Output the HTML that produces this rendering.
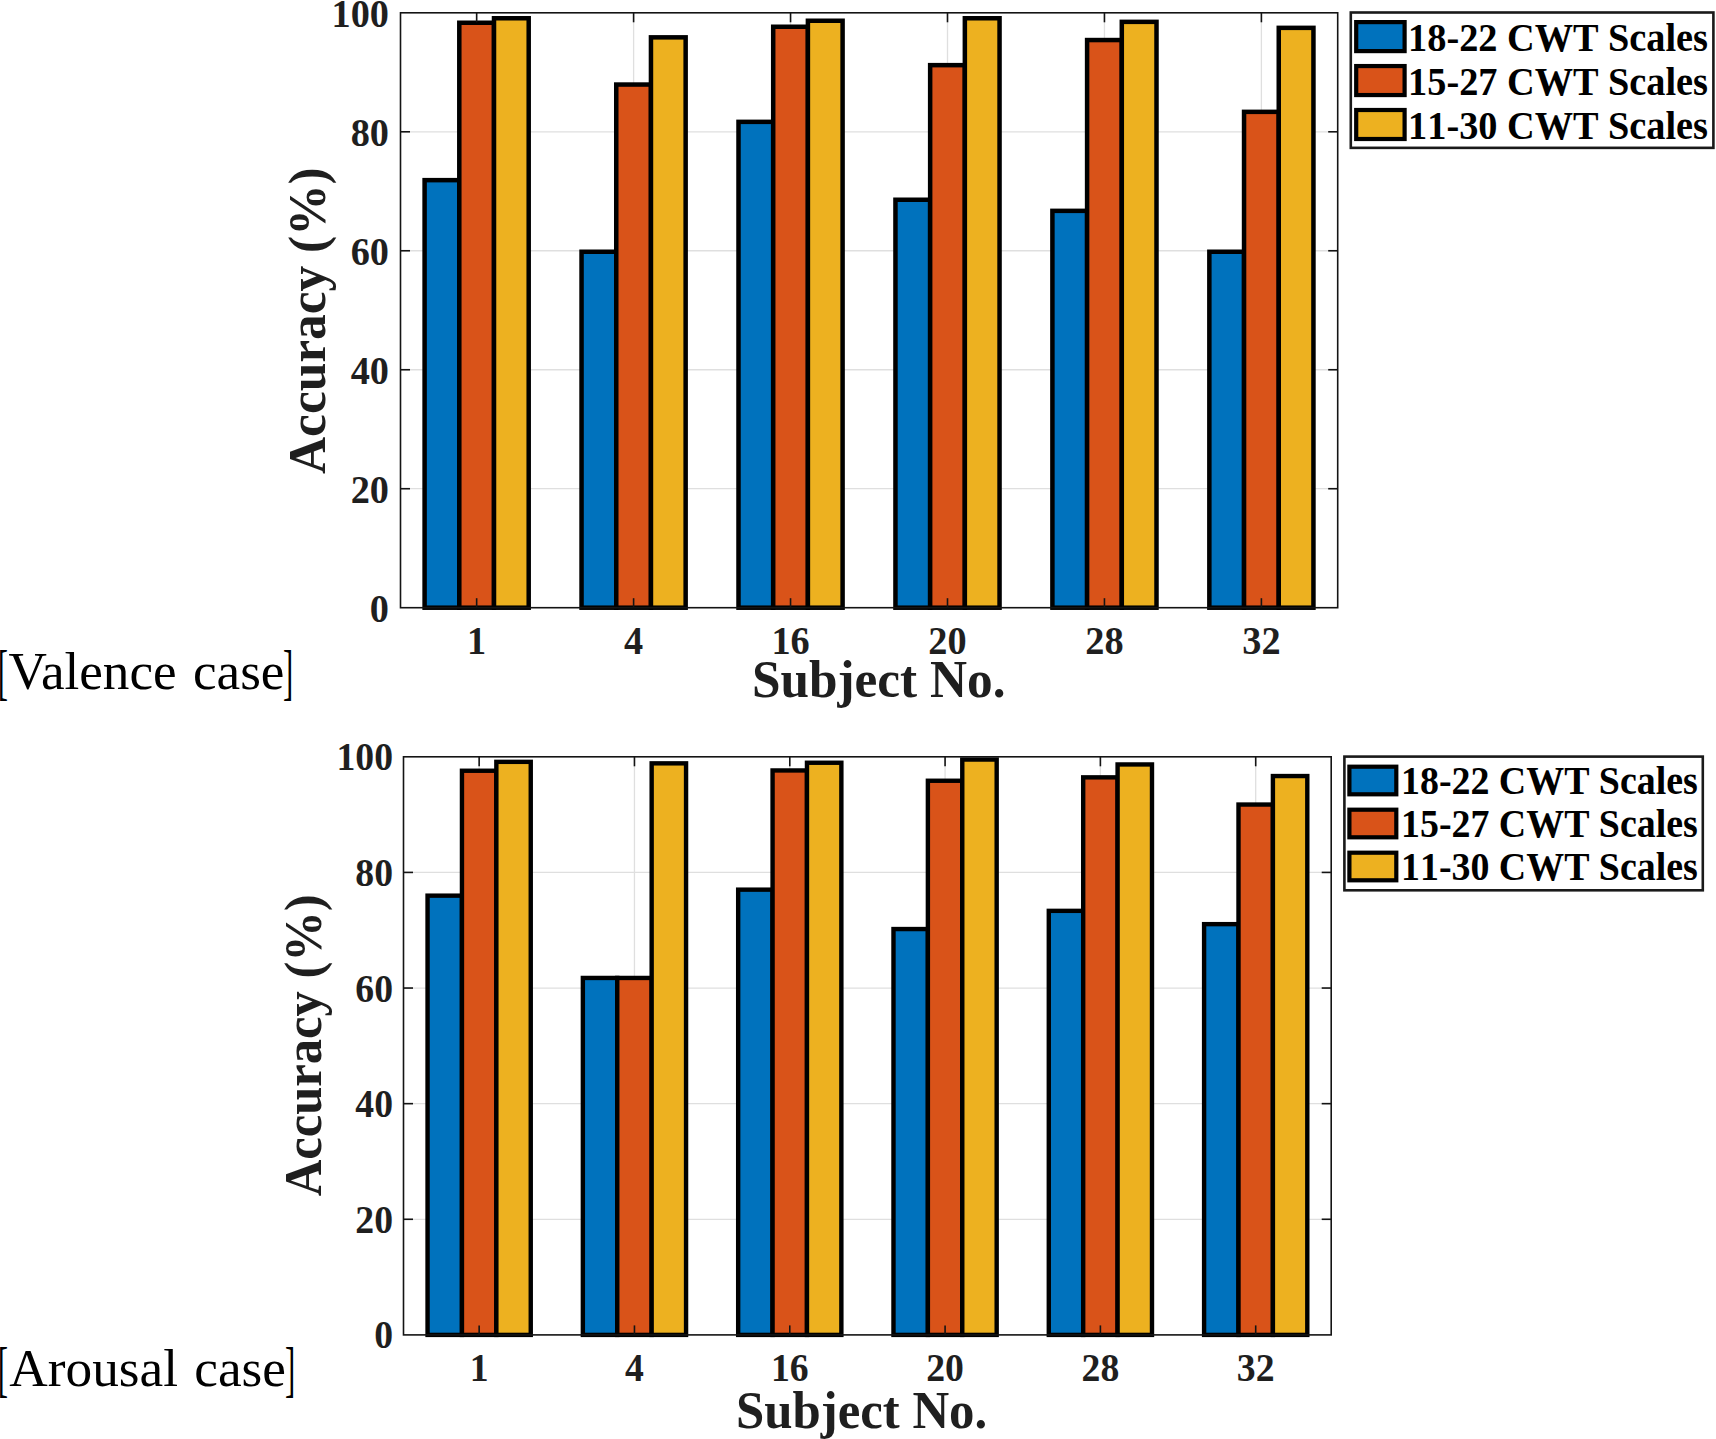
<!DOCTYPE html>
<html><head><meta charset="utf-8"><title>CWT Scales Accuracy</title>
<style>
html,body{margin:0;padding:0;background:#fff;}
body{width:1716px;height:1439px;overflow:hidden;}
svg{display:block;}
.b{font-kerning:none;font-family:"Liberation Serif","Times New Roman",serif;font-weight:bold;}
.r{font-family:"Liberation Serif","Times New Roman",serif;font-weight:normal;}
</style></head><body>
<svg width="1716" height="1439" viewBox="0 0 1716 1439">
<rect width="1716" height="1439" fill="#fff"/>
<line x1="400.5" y1="488.72" x2="1337.7" y2="488.72" stroke="#dfdfdf" stroke-width="1.3"/>
<line x1="400.5" y1="369.74" x2="1337.7" y2="369.74" stroke="#dfdfdf" stroke-width="1.3"/>
<line x1="400.5" y1="250.76" x2="1337.7" y2="250.76" stroke="#dfdfdf" stroke-width="1.3"/>
<line x1="400.5" y1="131.78" x2="1337.7" y2="131.78" stroke="#dfdfdf" stroke-width="1.3"/>
<line x1="476.65" y1="12.8" x2="476.65" y2="607.7" stroke="#dfdfdf" stroke-width="1.3"/>
<line x1="633.60" y1="12.8" x2="633.60" y2="607.7" stroke="#dfdfdf" stroke-width="1.3"/>
<line x1="790.55" y1="12.8" x2="790.55" y2="607.7" stroke="#dfdfdf" stroke-width="1.3"/>
<line x1="947.50" y1="12.8" x2="947.50" y2="607.7" stroke="#dfdfdf" stroke-width="1.3"/>
<line x1="1104.45" y1="12.8" x2="1104.45" y2="607.7" stroke="#dfdfdf" stroke-width="1.3"/>
<line x1="1261.40" y1="12.8" x2="1261.40" y2="607.7" stroke="#dfdfdf" stroke-width="1.3"/>
<rect x="424.60" y="180.15" width="34.70" height="427.55" fill="#0072BD" stroke="#000" stroke-width="4.5"/>
<rect x="459.30" y="22.75" width="34.70" height="584.95" fill="#D95319" stroke="#000" stroke-width="4.5"/>
<rect x="494.00" y="18.25" width="34.70" height="589.45" fill="#EDB120" stroke="#000" stroke-width="4.5"/>
<rect x="581.55" y="251.75" width="34.70" height="355.95" fill="#0072BD" stroke="#000" stroke-width="4.5"/>
<rect x="616.25" y="84.55" width="34.70" height="523.15" fill="#D95319" stroke="#000" stroke-width="4.5"/>
<rect x="650.95" y="37.35" width="34.70" height="570.35" fill="#EDB120" stroke="#000" stroke-width="4.5"/>
<rect x="738.50" y="121.85" width="34.70" height="485.85" fill="#0072BD" stroke="#000" stroke-width="4.5"/>
<rect x="773.20" y="26.75" width="34.70" height="580.95" fill="#D95319" stroke="#000" stroke-width="4.5"/>
<rect x="807.90" y="20.75" width="34.70" height="586.95" fill="#EDB120" stroke="#000" stroke-width="4.5"/>
<rect x="895.45" y="199.75" width="34.70" height="407.95" fill="#0072BD" stroke="#000" stroke-width="4.5"/>
<rect x="930.15" y="65.15" width="34.70" height="542.55" fill="#D95319" stroke="#000" stroke-width="4.5"/>
<rect x="964.85" y="18.25" width="34.70" height="589.45" fill="#EDB120" stroke="#000" stroke-width="4.5"/>
<rect x="1052.40" y="210.85" width="34.70" height="396.85" fill="#0072BD" stroke="#000" stroke-width="4.5"/>
<rect x="1087.10" y="40.05" width="34.70" height="567.65" fill="#D95319" stroke="#000" stroke-width="4.5"/>
<rect x="1121.80" y="21.85" width="34.70" height="585.85" fill="#EDB120" stroke="#000" stroke-width="4.5"/>
<rect x="1209.35" y="251.75" width="34.70" height="355.95" fill="#0072BD" stroke="#000" stroke-width="4.5"/>
<rect x="1244.05" y="111.85" width="34.70" height="495.85" fill="#D95319" stroke="#000" stroke-width="4.5"/>
<rect x="1278.75" y="27.85" width="34.70" height="579.85" fill="#EDB120" stroke="#000" stroke-width="4.5"/>
<rect x="400.5" y="12.8" width="937.20" height="594.90" fill="none" stroke="#141414" stroke-width="1.6"/>
<line x1="476.65" y1="12.8" x2="476.65" y2="22.3" stroke="#141414" stroke-width="1.6"/>
<line x1="476.65" y1="607.7" x2="476.65" y2="598.2" stroke="#141414" stroke-width="1.6"/>
<line x1="633.60" y1="12.8" x2="633.60" y2="22.3" stroke="#141414" stroke-width="1.6"/>
<line x1="633.60" y1="607.7" x2="633.60" y2="598.2" stroke="#141414" stroke-width="1.6"/>
<line x1="790.55" y1="12.8" x2="790.55" y2="22.3" stroke="#141414" stroke-width="1.6"/>
<line x1="790.55" y1="607.7" x2="790.55" y2="598.2" stroke="#141414" stroke-width="1.6"/>
<line x1="947.50" y1="12.8" x2="947.50" y2="22.3" stroke="#141414" stroke-width="1.6"/>
<line x1="947.50" y1="607.7" x2="947.50" y2="598.2" stroke="#141414" stroke-width="1.6"/>
<line x1="1104.45" y1="12.8" x2="1104.45" y2="22.3" stroke="#141414" stroke-width="1.6"/>
<line x1="1104.45" y1="607.7" x2="1104.45" y2="598.2" stroke="#141414" stroke-width="1.6"/>
<line x1="1261.40" y1="12.8" x2="1261.40" y2="22.3" stroke="#141414" stroke-width="1.6"/>
<line x1="1261.40" y1="607.7" x2="1261.40" y2="598.2" stroke="#141414" stroke-width="1.6"/>
<line x1="400.5" y1="488.72" x2="410.0" y2="488.72" stroke="#141414" stroke-width="1.6"/>
<line x1="1337.7" y1="488.72" x2="1328.2" y2="488.72" stroke="#141414" stroke-width="1.6"/>
<line x1="400.5" y1="369.74" x2="410.0" y2="369.74" stroke="#141414" stroke-width="1.6"/>
<line x1="1337.7" y1="369.74" x2="1328.2" y2="369.74" stroke="#141414" stroke-width="1.6"/>
<line x1="400.5" y1="250.76" x2="410.0" y2="250.76" stroke="#141414" stroke-width="1.6"/>
<line x1="1337.7" y1="250.76" x2="1328.2" y2="250.76" stroke="#141414" stroke-width="1.6"/>
<line x1="400.5" y1="131.78" x2="410.0" y2="131.78" stroke="#141414" stroke-width="1.6"/>
<line x1="1337.7" y1="131.78" x2="1328.2" y2="131.78" stroke="#141414" stroke-width="1.6"/>
<text transform="translate(389,621.90) scale(1,1.04)" text-anchor="end" class="b" font-size="38.3" fill="#1f1f1f">0</text>
<text transform="translate(389,502.92) scale(1,1.04)" text-anchor="end" class="b" font-size="38.3" fill="#1f1f1f">20</text>
<text transform="translate(389,383.94) scale(1,1.04)" text-anchor="end" class="b" font-size="38.3" fill="#1f1f1f">40</text>
<text transform="translate(389,264.96) scale(1,1.04)" text-anchor="end" class="b" font-size="38.3" fill="#1f1f1f">60</text>
<text transform="translate(389,145.98) scale(1,1.04)" text-anchor="end" class="b" font-size="38.3" fill="#1f1f1f">80</text>
<text transform="translate(389,27.00) scale(1,1.04)" text-anchor="end" class="b" font-size="38.3" fill="#1f1f1f">100</text>
<text transform="translate(476.65,653.65) scale(1,1.04)" text-anchor="middle" class="b" font-size="38.3" fill="#1f1f1f">1</text>
<text transform="translate(633.60,653.65) scale(1,1.04)" text-anchor="middle" class="b" font-size="38.3" fill="#1f1f1f">4</text>
<text transform="translate(790.55,653.65) scale(1,1.04)" text-anchor="middle" class="b" font-size="38.3" fill="#1f1f1f">16</text>
<text transform="translate(947.50,653.65) scale(1,1.04)" text-anchor="middle" class="b" font-size="38.3" fill="#1f1f1f">20</text>
<text transform="translate(1104.45,653.65) scale(1,1.04)" text-anchor="middle" class="b" font-size="38.3" fill="#1f1f1f">28</text>
<text transform="translate(1261.40,653.65) scale(1,1.04)" text-anchor="middle" class="b" font-size="38.3" fill="#1f1f1f">32</text>
<text transform="translate(878.7,696.7) scale(1,1.04)" text-anchor="middle" class="b" font-size="51.3" fill="#1f1f1f">Subject No.</text>
<text transform="translate(325.1,320.65) rotate(-90) scale(1,1.04)" text-anchor="middle" class="b" font-size="51.4" fill="#1f1f1f">Accuracy (%)</text>
<rect x="1350.8" y="12.5" width="362.60" height="135.35" fill="#fff" stroke="#1a1a1a" stroke-width="2.6"/>
<rect x="1356.2" y="22.10" width="48.40" height="29" fill="#0072BD" stroke="#000" stroke-width="4.2"/>
<text transform="translate(1408.1,50.80) scale(1,1.04)" class="b" font-size="38.3" fill="#000">18-22 CWT Scales</text>
<rect x="1356.2" y="66.05" width="48.40" height="29" fill="#D95319" stroke="#000" stroke-width="4.2"/>
<text transform="translate(1408.1,94.75) scale(1,1.04)" class="b" font-size="38.3" fill="#000">15-27 CWT Scales</text>
<rect x="1356.2" y="110.00" width="48.40" height="29" fill="#EDB120" stroke="#000" stroke-width="4.2"/>
<text transform="translate(1408.1,138.70) scale(1,1.04)" class="b" font-size="38.3" fill="#000">11-30 CWT Scales</text>
<text transform="translate(-2.28,692.60) scale(0.5,1)" class="r" font-size="61.4" fill="#000">[</text>
<text transform="translate(8.40,688.90) scale(1.013,1)" class="r" font-size="52.5" word-spacing="3" fill="#000">Valence case</text>
<text transform="translate(283.05,692.60) scale(0.5,1)" class="r" font-size="61.4" fill="#000">]</text>
<line x1="403.5" y1="1219.28" x2="1331.2" y2="1219.28" stroke="#dfdfdf" stroke-width="1.3"/>
<line x1="403.5" y1="1103.66" x2="1331.2" y2="1103.66" stroke="#dfdfdf" stroke-width="1.3"/>
<line x1="403.5" y1="988.04" x2="1331.2" y2="988.04" stroke="#dfdfdf" stroke-width="1.3"/>
<line x1="403.5" y1="872.42" x2="1331.2" y2="872.42" stroke="#dfdfdf" stroke-width="1.3"/>
<line x1="479.15" y1="756.8" x2="479.15" y2="1334.9" stroke="#dfdfdf" stroke-width="1.3"/>
<line x1="634.46" y1="756.8" x2="634.46" y2="1334.9" stroke="#dfdfdf" stroke-width="1.3"/>
<line x1="789.77" y1="756.8" x2="789.77" y2="1334.9" stroke="#dfdfdf" stroke-width="1.3"/>
<line x1="945.08" y1="756.8" x2="945.08" y2="1334.9" stroke="#dfdfdf" stroke-width="1.3"/>
<line x1="1100.39" y1="756.8" x2="1100.39" y2="1334.9" stroke="#dfdfdf" stroke-width="1.3"/>
<line x1="1255.70" y1="756.8" x2="1255.70" y2="1334.9" stroke="#dfdfdf" stroke-width="1.3"/>
<rect x="427.55" y="895.65" width="34.40" height="439.25" fill="#0072BD" stroke="#000" stroke-width="4.4"/>
<rect x="461.95" y="770.75" width="34.40" height="564.15" fill="#D95319" stroke="#000" stroke-width="4.4"/>
<rect x="496.35" y="761.85" width="34.40" height="573.05" fill="#EDB120" stroke="#000" stroke-width="4.4"/>
<rect x="582.86" y="977.95" width="34.40" height="356.95" fill="#0072BD" stroke="#000" stroke-width="4.4"/>
<rect x="617.26" y="977.95" width="34.40" height="356.95" fill="#D95319" stroke="#000" stroke-width="4.4"/>
<rect x="651.66" y="763.35" width="34.40" height="571.55" fill="#EDB120" stroke="#000" stroke-width="4.4"/>
<rect x="738.17" y="889.65" width="34.40" height="445.25" fill="#0072BD" stroke="#000" stroke-width="4.4"/>
<rect x="772.57" y="770.45" width="34.40" height="564.45" fill="#D95319" stroke="#000" stroke-width="4.4"/>
<rect x="806.97" y="762.75" width="34.40" height="572.15" fill="#EDB120" stroke="#000" stroke-width="4.4"/>
<rect x="893.48" y="929.05" width="34.40" height="405.85" fill="#0072BD" stroke="#000" stroke-width="4.4"/>
<rect x="927.88" y="780.75" width="34.40" height="554.15" fill="#D95319" stroke="#000" stroke-width="4.4"/>
<rect x="962.28" y="759.55" width="34.40" height="575.35" fill="#EDB120" stroke="#000" stroke-width="4.4"/>
<rect x="1048.79" y="910.85" width="34.40" height="424.05" fill="#0072BD" stroke="#000" stroke-width="4.4"/>
<rect x="1083.19" y="777.35" width="34.40" height="557.55" fill="#D95319" stroke="#000" stroke-width="4.4"/>
<rect x="1117.59" y="764.45" width="34.40" height="570.45" fill="#EDB120" stroke="#000" stroke-width="4.4"/>
<rect x="1204.10" y="924.15" width="34.40" height="410.75" fill="#0072BD" stroke="#000" stroke-width="4.4"/>
<rect x="1238.50" y="804.55" width="34.40" height="530.35" fill="#D95319" stroke="#000" stroke-width="4.4"/>
<rect x="1272.90" y="776.05" width="34.40" height="558.85" fill="#EDB120" stroke="#000" stroke-width="4.4"/>
<rect x="403.5" y="756.8" width="927.70" height="578.10" fill="none" stroke="#141414" stroke-width="1.6"/>
<line x1="479.15" y1="756.8" x2="479.15" y2="766.3" stroke="#141414" stroke-width="1.6"/>
<line x1="479.15" y1="1334.9" x2="479.15" y2="1325.4" stroke="#141414" stroke-width="1.6"/>
<line x1="634.46" y1="756.8" x2="634.46" y2="766.3" stroke="#141414" stroke-width="1.6"/>
<line x1="634.46" y1="1334.9" x2="634.46" y2="1325.4" stroke="#141414" stroke-width="1.6"/>
<line x1="789.77" y1="756.8" x2="789.77" y2="766.3" stroke="#141414" stroke-width="1.6"/>
<line x1="789.77" y1="1334.9" x2="789.77" y2="1325.4" stroke="#141414" stroke-width="1.6"/>
<line x1="945.08" y1="756.8" x2="945.08" y2="766.3" stroke="#141414" stroke-width="1.6"/>
<line x1="945.08" y1="1334.9" x2="945.08" y2="1325.4" stroke="#141414" stroke-width="1.6"/>
<line x1="1100.39" y1="756.8" x2="1100.39" y2="766.3" stroke="#141414" stroke-width="1.6"/>
<line x1="1100.39" y1="1334.9" x2="1100.39" y2="1325.4" stroke="#141414" stroke-width="1.6"/>
<line x1="1255.70" y1="756.8" x2="1255.70" y2="766.3" stroke="#141414" stroke-width="1.6"/>
<line x1="1255.70" y1="1334.9" x2="1255.70" y2="1325.4" stroke="#141414" stroke-width="1.6"/>
<line x1="403.5" y1="1219.28" x2="413.0" y2="1219.28" stroke="#141414" stroke-width="1.6"/>
<line x1="1331.2" y1="1219.28" x2="1321.7" y2="1219.28" stroke="#141414" stroke-width="1.6"/>
<line x1="403.5" y1="1103.66" x2="413.0" y2="1103.66" stroke="#141414" stroke-width="1.6"/>
<line x1="1331.2" y1="1103.66" x2="1321.7" y2="1103.66" stroke="#141414" stroke-width="1.6"/>
<line x1="403.5" y1="988.04" x2="413.0" y2="988.04" stroke="#141414" stroke-width="1.6"/>
<line x1="1331.2" y1="988.04" x2="1321.7" y2="988.04" stroke="#141414" stroke-width="1.6"/>
<line x1="403.5" y1="872.42" x2="413.0" y2="872.42" stroke="#141414" stroke-width="1.6"/>
<line x1="1331.2" y1="872.42" x2="1321.7" y2="872.42" stroke="#141414" stroke-width="1.6"/>
<text transform="translate(393,1348.40) scale(1,1.04)" text-anchor="end" class="b" font-size="37.7" fill="#1f1f1f">0</text>
<text transform="translate(393,1232.78) scale(1,1.04)" text-anchor="end" class="b" font-size="37.7" fill="#1f1f1f">20</text>
<text transform="translate(393,1117.16) scale(1,1.04)" text-anchor="end" class="b" font-size="37.7" fill="#1f1f1f">40</text>
<text transform="translate(393,1001.54) scale(1,1.04)" text-anchor="end" class="b" font-size="37.7" fill="#1f1f1f">60</text>
<text transform="translate(393,885.92) scale(1,1.04)" text-anchor="end" class="b" font-size="37.7" fill="#1f1f1f">80</text>
<text transform="translate(393,770.30) scale(1,1.04)" text-anchor="end" class="b" font-size="37.7" fill="#1f1f1f">100</text>
<text transform="translate(479.15,1380.9) scale(1,1.04)" text-anchor="middle" class="b" font-size="37.7" fill="#1f1f1f">1</text>
<text transform="translate(634.46,1380.9) scale(1,1.04)" text-anchor="middle" class="b" font-size="37.7" fill="#1f1f1f">4</text>
<text transform="translate(789.77,1380.9) scale(1,1.04)" text-anchor="middle" class="b" font-size="37.7" fill="#1f1f1f">16</text>
<text transform="translate(945.08,1380.9) scale(1,1.04)" text-anchor="middle" class="b" font-size="37.7" fill="#1f1f1f">20</text>
<text transform="translate(1100.39,1380.9) scale(1,1.04)" text-anchor="middle" class="b" font-size="37.7" fill="#1f1f1f">28</text>
<text transform="translate(1255.70,1380.9) scale(1,1.04)" text-anchor="middle" class="b" font-size="37.7" fill="#1f1f1f">32</text>
<text transform="translate(861.65,1427.9) scale(1,1.04)" text-anchor="middle" class="b" font-size="50.8" fill="#1f1f1f">Subject No.</text>
<text transform="translate(320.5,1045.3) rotate(-90) scale(1,1.04)" text-anchor="middle" class="b" font-size="50.6" fill="#1f1f1f">Accuracy (%)</text>
<rect x="1344.4" y="756.6" width="358.40" height="133.70" fill="#fff" stroke="#1a1a1a" stroke-width="2.6"/>
<rect x="1349.4" y="766.70" width="46.90" height="27.6" fill="#0072BD" stroke="#000" stroke-width="4.2"/>
<text transform="translate(1401,793.80) scale(1,1.04)" class="b" font-size="37.9" fill="#000">18-22 CWT Scales</text>
<rect x="1349.4" y="809.70" width="46.90" height="27.6" fill="#D95319" stroke="#000" stroke-width="4.2"/>
<text transform="translate(1401,836.80) scale(1,1.04)" class="b" font-size="37.9" fill="#000">15-27 CWT Scales</text>
<rect x="1349.4" y="852.70" width="46.90" height="27.6" fill="#EDB120" stroke="#000" stroke-width="4.2"/>
<text transform="translate(1401,879.80) scale(1,1.04)" class="b" font-size="37.9" fill="#000">11-30 CWT Scales</text>
<text transform="translate(-2.28,1390.20) scale(0.5,1)" class="r" font-size="61.8" fill="#000">[</text>
<text transform="translate(9.30,1385.70) scale(1.015,1)" class="r" font-size="52.5" word-spacing="3" fill="#000">Arousal case</text>
<text transform="translate(285.00,1390.20) scale(0.5,1)" class="r" font-size="61.8" fill="#000">]</text>
</svg>
</body></html>
